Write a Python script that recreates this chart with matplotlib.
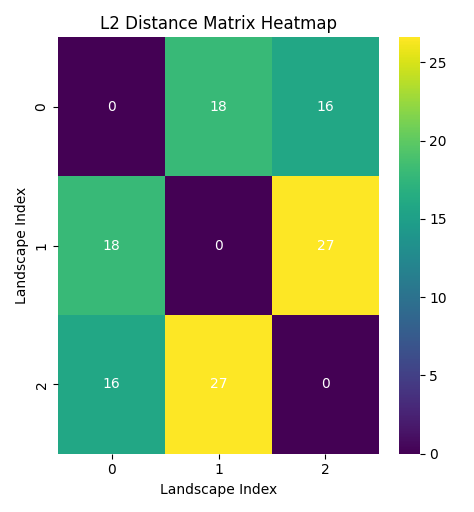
import numpy as np
import matplotlib
matplotlib.use("Agg")
import matplotlib.pyplot as plt
import seaborn as sns

labels = ["0", "1", "2"]
d01 = 17.9
d02 = 15.8
d12 = 26.6
dist = np.array([[0, d01, d02],
                 [d01, 0, d12],
                 [d02, d12, 0]])

fig = plt.figure(figsize=(4.74, 5.12), dpi=100)
ax = sns.heatmap(dist, annot=True, fmt=".0f", cmap="viridis",
                 annot_kws={"color": "white"},
                 xticklabels=labels, yticklabels=labels)
ax.set_title("L2 Distance Matrix Heatmap")
ax.set_xlabel("Landscape Index")
ax.set_ylabel("Landscape Index")
plt.tight_layout()
plt.savefig("out.png", dpi=100)
